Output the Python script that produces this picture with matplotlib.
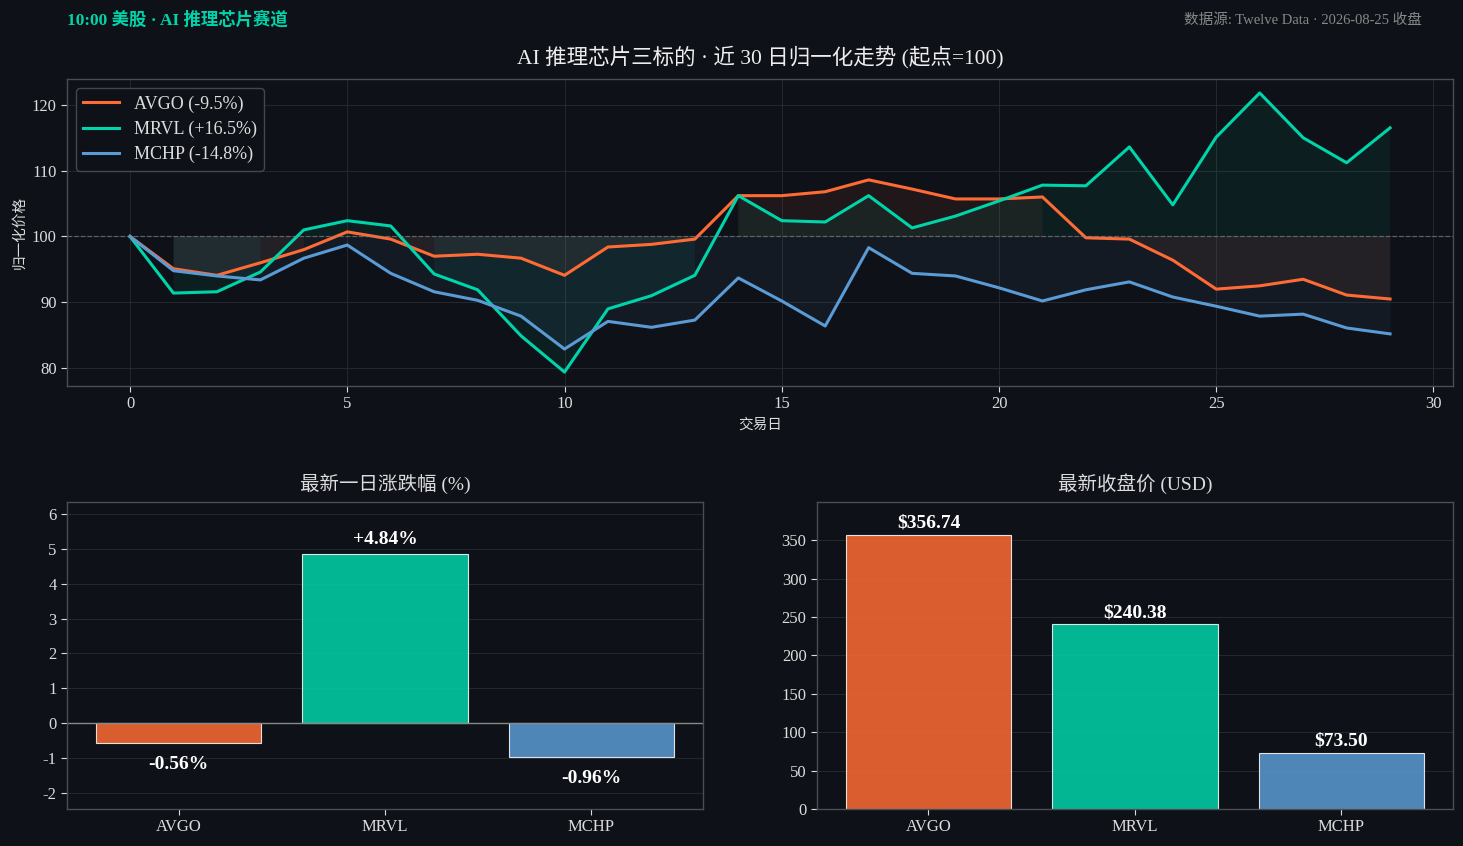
import numpy as np
import matplotlib
matplotlib.use("Agg")
import matplotlib.pyplot as plt

plt.rcParams['font.family'] = ['Liberation Serif', 'Noto Sans CJK SC', 'DejaVu Sans']
plt.rcParams['axes.unicode_minus'] = False

tickers = ["AVGO", "MRVL", "MCHP"]
colors = ["#ff6b35", "#00d4aa", "#5b9bd5"]
days = list(range(30))

avgo = [100, 95.1, 94.1, 96.0, 98.0, 100.7, 99.6, 97.0, 97.3, 96.7,
        94.1, 98.4, 98.8, 99.6, 106.2, 106.2, 106.8, 108.6, 107.2, 105.7,
        105.7, 106.0, 99.8, 99.6, 96.4, 92.0, 92.5, 93.5, 91.1, 90.5]
mrvl = [100, 91.4, 91.6, 94.6, 101.0, 102.4, 101.6, 94.3, 91.9, 84.9,
        79.4, 89.0, 91.0, 94.1, 106.2, 102.4, 102.2, 106.2, 101.3, 103.1,
        105.4, 107.8, 107.7, 113.6, 104.8, 115.1, 121.8, 115.0, 111.2, 116.5]
mchp = [100, 94.8, 94.0, 93.4, 96.7, 98.7, 94.4, 91.6, 90.3, 87.9,
        82.9, 87.1, 86.2, 87.3, 93.7, 90.2, 86.4, 98.3, 94.4, 94.0,
        92.2, 90.2, 91.9, 93.1, 90.8, 89.4, 87.9, 88.2, 86.1, 85.2]
series = [avgo, mrvl, mchp]
period_chg = [-9.5, 16.5, -14.8]

day_chg = [-0.56, 4.84, -0.96]
close_px = [356.74, 240.38, 73.50]

BG = "#0e1117"
TXT = "#dcdcdc"
GRID = "#2a2e36"
SPINE = "#4a4d52"

fig = plt.figure(figsize=(14.63, 8.46), dpi=100, facecolor=BG)

def style(ax):
    ax.set_facecolor(BG)
    for s in ax.spines.values():
        s.set_color(SPINE)
        s.set_linewidth(1.0)
    ax.tick_params(colors=TXT, labelsize=12, length=4, color=TXT)
    ax.grid(True, color=GRID, linewidth=0.7, alpha=0.8)
    ax.set_axisbelow(True)

# Top: normalized lines
ax1 = fig.add_axes([0.0458, 0.5437, 0.9474, 0.3629])
style(ax1)
x = np.array(days)
for tk, c, ys, pc in zip(tickers, colors, series, period_chg):
    y = np.array(ys)
    ax1.plot(x, y, color=c, lw=2.2, label=f"{tk} ({pc:+.1f}%)" if pc > 0 else f"{tk} ({pc:.1f}%)")
    ax1.fill_between(x, y, 100, where=y > 100, color=c, alpha=0.07, lw=0)
    ax1.fill_between(x, y, 100, where=y < 100, color=c, alpha=0.07, lw=0)
ax1.axhline(100, color="#888888", lw=0.9, ls="--", alpha=0.6)
ax1.set_yticks([80, 90, 100, 110, 120])
ax1.set_xlabel("交易日", color=TXT, fontsize=10.5)
ax1.set_ylabel("归一化价格", color=TXT, fontsize=10.5)
ax1.set_title("AI 推理芯片三标的 · 近 30 日归一化走势 (起点=100)", color="#eeeeee",
              fontsize=15.5, pad=11)
leg = ax1.legend(loc="upper left", fontsize=13, facecolor=BG, edgecolor=SPINE,
                 framealpha=0.9, labelcolor=TXT, handlelength=2.0, labelspacing=0.45)

# Bottom-left: daily change
ax2 = fig.add_axes([0.0458, 0.0437, 0.4347, 0.3629])
style(ax2)
xb = np.arange(len(tickers))
ax2.bar(xb, day_chg, color=colors, alpha=0.85, width=0.8,
        edgecolor=(1, 1, 1, 0.7), linewidth=0.8)
ax2.axhline(0, color="#888888", lw=1.0)
ax2.set_ylim(min(day_chg) - 1.5, max(day_chg) + 1.5)
ax2.set_xticks(xb)
ax2.set_xticklabels(tickers)
ax2.grid(False, axis="x")
ax2.set_title("最新一日涨跌幅 (%)", color=TXT, fontsize=14, pad=9)
for xi, v in zip(xb, day_chg):
    if v >= 0:
        ax2.text(xi, v + 0.18, f"{v:+.2f}%", ha="center", va="bottom",
                 color="white", fontsize=14, fontweight="semibold")
    else:
        ax2.text(xi, v - 0.38, f"{v:.2f}%", ha="center", va="top",
                 color="white", fontsize=14, fontweight="semibold")

# Bottom-right: closing price
ax3 = fig.add_axes([0.5584, 0.0437, 0.4347, 0.3629])
style(ax3)
ax3.bar(xb, close_px, color=colors, alpha=0.85, width=0.8,
        edgecolor=(1, 1, 1, 0.7), linewidth=0.8)
ax3.set_ylim(0, max(close_px) * 1.12)
ax3.set_xticks(xb)
ax3.set_xticklabels(tickers)
ax3.grid(False, axis="x")
ax3.set_title("最新收盘价 (USD)", color=TXT, fontsize=14, pad=9)
for xi, v in zip(xb, close_px):
    ax3.text(xi, v + max(close_px) * 0.012, f"${v:.2f}", ha="center", va="bottom",
             color="white", fontsize=14, fontweight="semibold")

fig.text(0.046, 0.977, "10:00 美股 · AI 推理芯片赛道", color="#00d4aa",
         fontsize=12.5, fontweight="bold", ha="left", va="center")
fig.text(0.972, 0.976, "数据源: Twelve Data · 2026-08-25 收盘", color="#888888",
         fontsize=10.5, ha="right", va="center")

fig.savefig("out.png", dpi=100, facecolor=BG)
